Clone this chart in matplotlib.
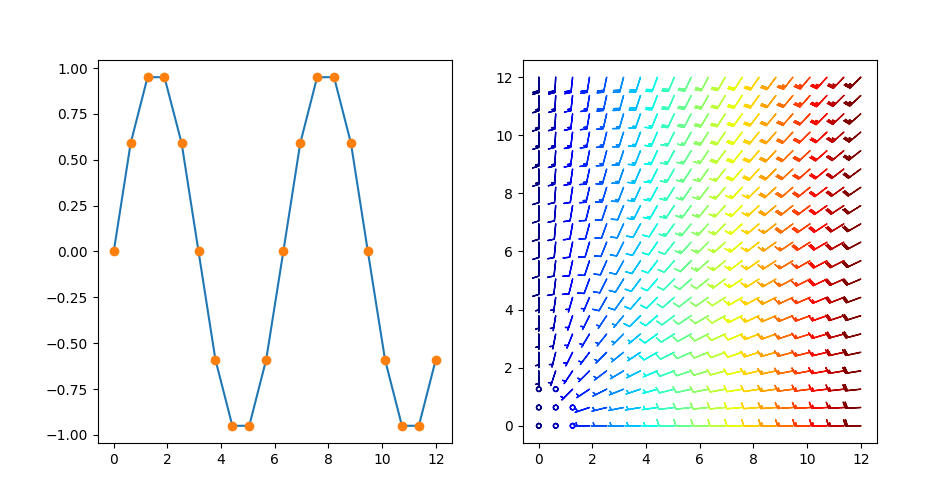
import matplotlib
matplotlib.use("Agg")
import matplotlib.pyplot as plt
import numpy as np

# left panel: sampled sine
x_pts = [0.0, 0.63, 1.26, 1.89, 2.53, 3.16, 3.79, 4.42, 5.05, 5.68,
         6.32, 6.95, 7.58, 8.21, 8.84, 9.47, 10.11, 10.74, 11.37, 12.0]
y_pts = [0.0, 0.59, 0.95, 0.95, 0.59, 0.0, -0.59, -0.95, -0.95, -0.59,
         0.0, 0.59, 0.95, 0.95, 0.59, 0.0, -0.59, -0.95, -0.95, -0.59]

# right panel: barb grid (same 20 positions on both axes)
grid = x_pts
u_col = [0.0, 0.95, 1.9, 2.85, 3.8, 4.75, 5.7, 6.65, 7.6, 8.55,
         9.5, 10.4, 11.4, 12.3, 13.3, 14.2, 15.2, 16.1, 17.1, 18.0]
v_row = u_col

fig, (ax1, ax2) = plt.subplots(1, 2, figsize=(9.48, 4.98), dpi=100)
plt.subplots_adjust(left=0.103, right=0.925, top=0.88, bottom=0.11, wspace=0.2)

ax1.plot(x_pts, y_pts)
ax1.plot(x_pts, y_pts, 'o')

X, Y = np.meshgrid(grid, grid)
U, V = np.meshgrid(u_col, v_row)
ax2.barbs(X, Y, U, V, X, cmap='jet', length=4.7)

fig.savefig('out.png')
